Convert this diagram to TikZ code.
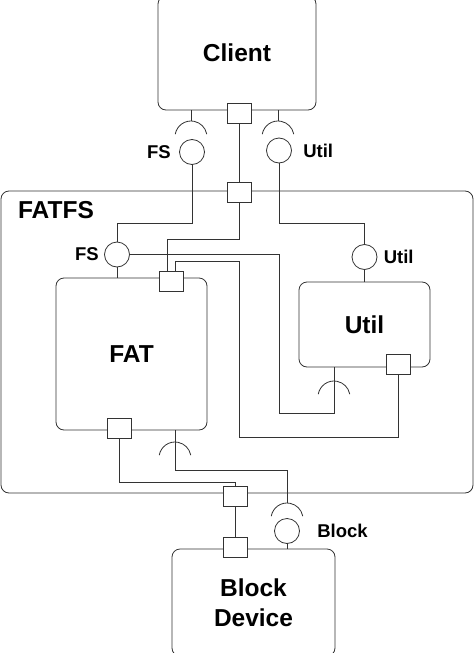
\documentclass[tikz,border=0pt]{standalone}
\usepackage{fontspec}
\setmainfont{Liberation Sans}
\usetikzlibrary{positioning}
\tikzset{
  comp/.style={draw, rounded corners=8pt, align=center, text=black,
    font=\bfseries\fontsize{24.5}{30}\selectfont},
  port/.style={draw, fill=white, minimum width=24pt, minimum height=20pt, inner sep=0pt},
  iface/.style={draw, fill=white, circle, minimum size=25pt, inner sep=0pt},
  lbl/.style={inner sep=0pt, text=black, font=\bfseries\fontsize{18.5}{20}\selectfont},
}
\begin{document}
\begin{tikzpicture}[x=1pt, y=-1pt, black!80, line width=0.8pt]
\useasboundingbox (0,0) rectangle (474,653);
\node (fatfs) at (237,342) [draw, rounded corners=8pt, minimum width=472pt, minimum height=302pt] {};
\node (fatfslbl) at (56,210) [text=black, font=\bfseries\fontsize{24.5}{30}\selectfont] {FATFS};
\node (client) at (237,53) [comp, minimum width=158pt, minimum height=114pt] {Client};
\node (fat) at (131.5,354) [comp, minimum width=151pt, minimum height=152pt] {FAT};
\node (util) at (364.5,324.5) [comp, minimum width=131pt, minimum height=85pt] {Util};
\node (blockdev) at (253.5,602.5) [comp, minimum width=163pt, minimum height=107pt] {Block\\Device};
\coordinate (fssock) at (191,137);
\coordinate (utilsock) at (278,137);
\coordinate (utilreq) at (334,397);
\coordinate (fatreq) at (175,458);
\coordinate (blocksock) at (287,519);
\node (fsout) at (192,152) [iface] {};
\node (utilout) at (279,150.5) [iface] {};
\node (fsin) at (117,254.5) [iface] {};
\node (utilin) at (364.5,257) [iface] {};
\node (blockin) at (287,531) [iface] {};
\draw (client.south -| fssock) -- ([yshift=16pt]fssock);
\draw (client.south -| utilsock) -- ([yshift=16pt]utilsock);
\draw (fsout.south) -- ++(0,58) -| (fsin.north);
\draw (utilout.south) -- ++(0,60) -| (utilin.north);
\draw (fsin.south) -- (fsin.south |- fat.north);
\draw (utilin.south) -- (utilin.south |- util.north);
\draw (fsin.east) -| ++(149,159) -| (util.south -| utilreq);
\draw (fat.south -| fatreq) -- ++(0,40) -| ([yshift=16pt]blocksock);
\draw (blockin.south) -- (blockin.south |- blockdev.north);
\foreach \s in {fssock,utilsock,utilreq,fatreq,blocksock}
  \draw ([shift={(170:16pt)}]\s) arc[start angle=170, end angle=10, radius=16pt];
\node (clientport) at (239,113) [port] {};
\node (fatfsport) at (239,192) [port] {};
\node (fatport) at (171,281) [port] {};
\node (fatlow) at (119,428) [port] {};
\node (utilport) at (398,364) [port] {};
\node (fatfslow) at (235,496) [port] {};
\node (blockport) at (235,547) [port] {};
\draw (clientport) -- (fatfsport);
\draw (fatfsport.south) -- ++(0,37) -| ([xshift=-4pt]fatport.north);
\draw ([xshift=4pt]fatport.north) -- ++(0,-9) -| ++(64,176) -| (utilport.south);
\draw (fatlow.south) -- ++(0,44) -| (fatfslow.north);
\draw (fatfslow) -- (blockport);
\node (fsoutlbl) [lbl, left=8pt of fsout] {FS};
\node (utiloutlbl) [lbl, right=11pt of utilout] {Util};
\node (fsinlbl) [lbl, left=5pt of fsin] {FS};
\node (utilinlbl) [lbl, right=6pt of utilin] {Util};
\node (blockinlbl) [lbl, right=17pt of blockin] {Block};
\end{tikzpicture}
\end{document}
